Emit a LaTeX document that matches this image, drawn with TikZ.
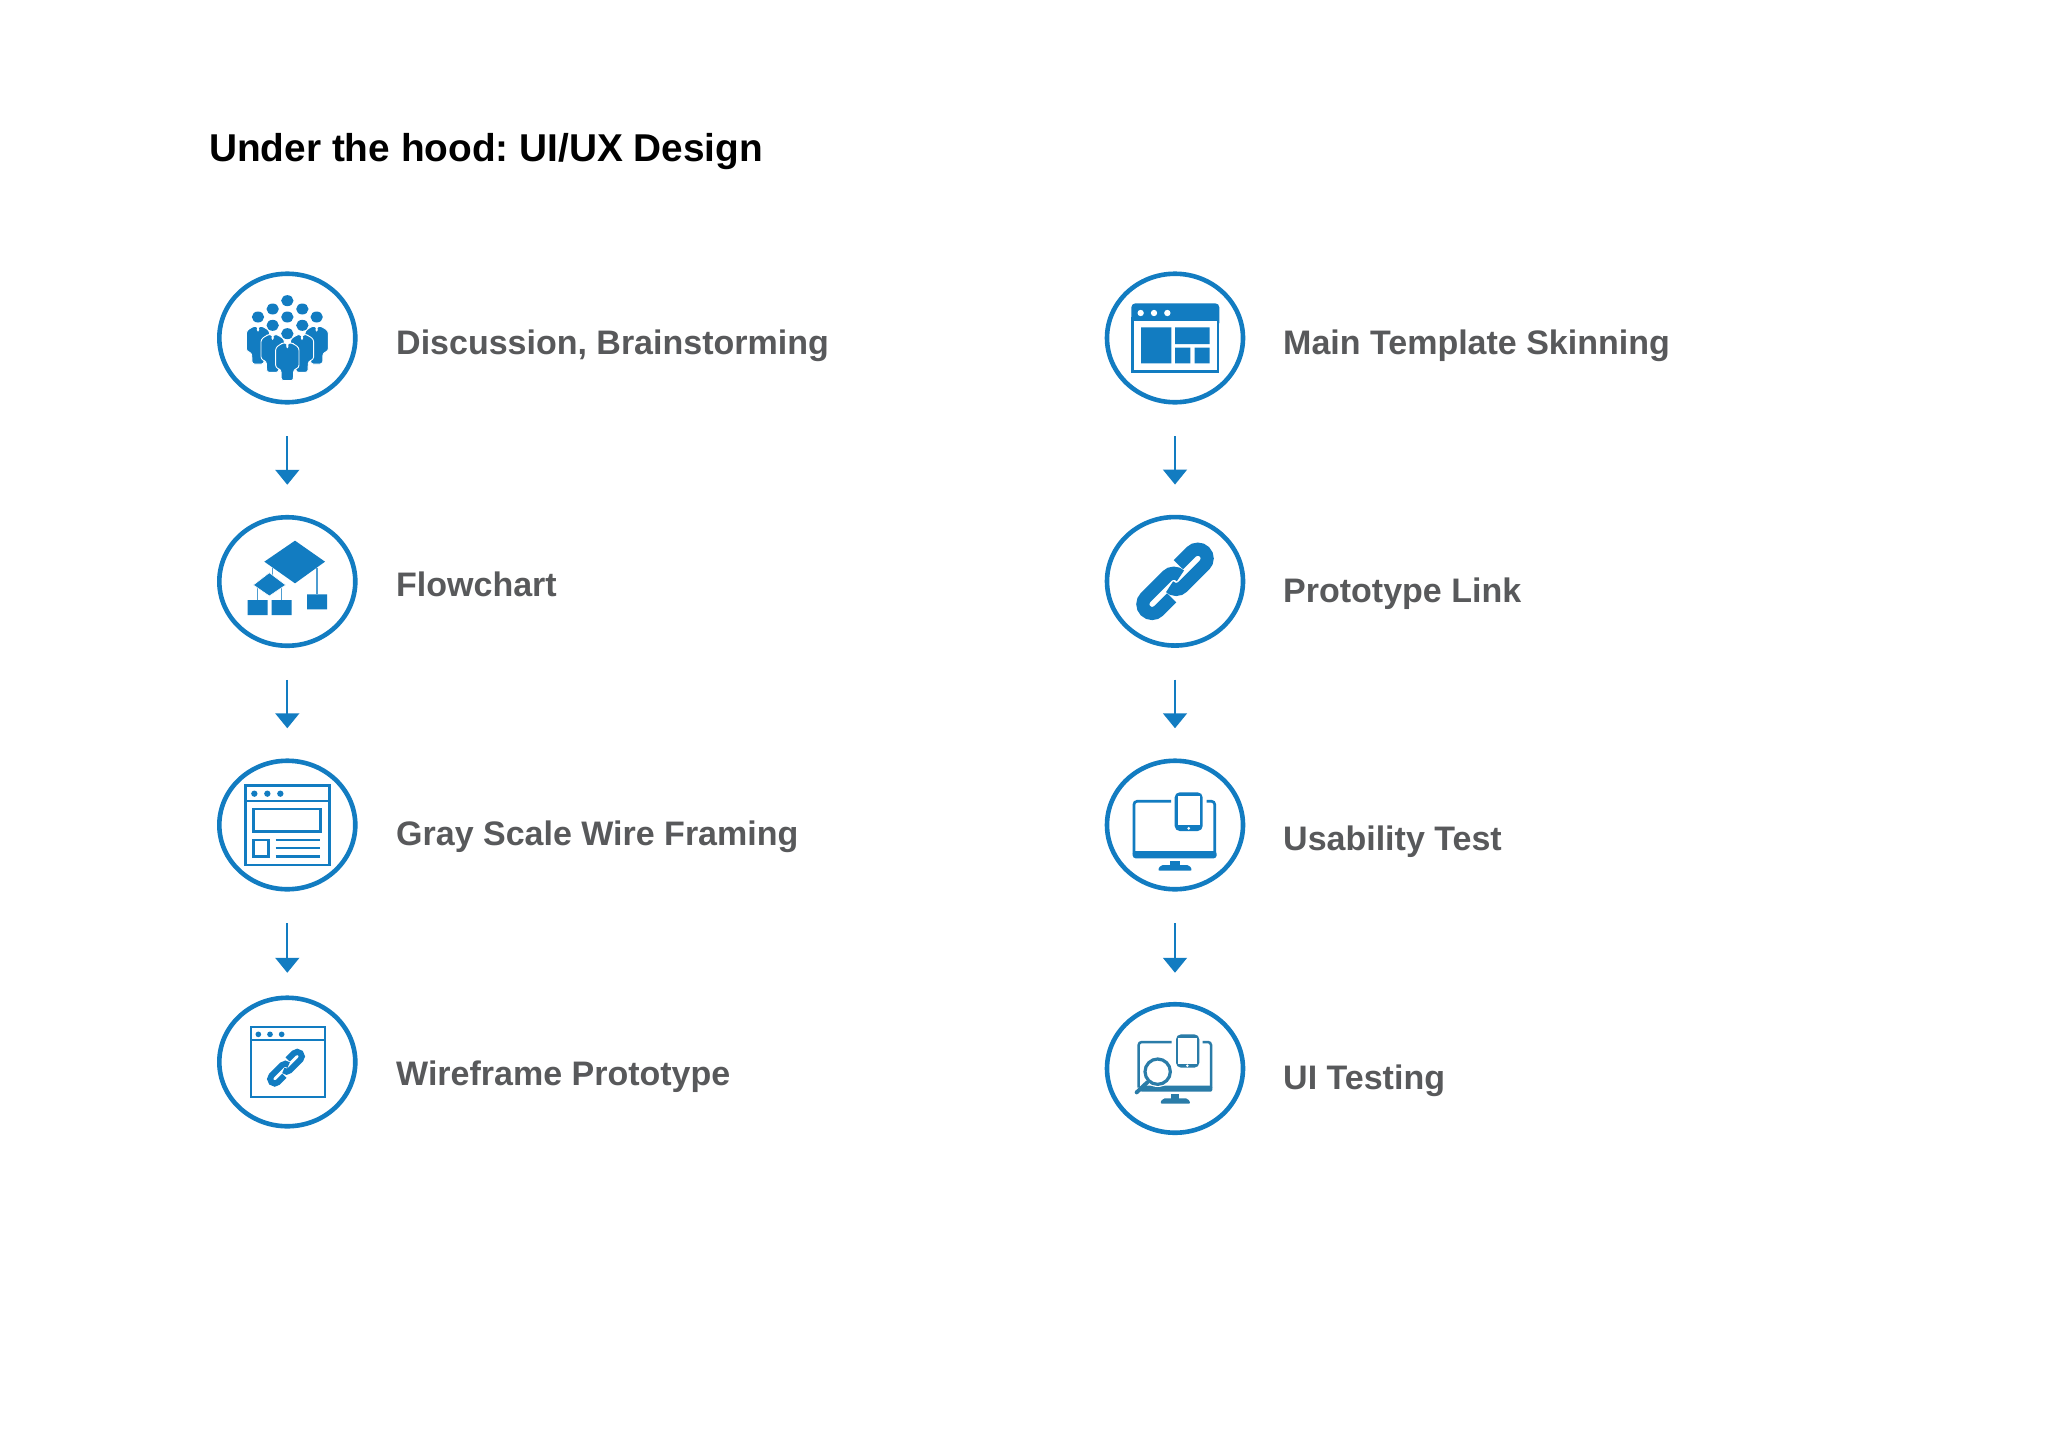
\documentclass[tikz,border=0pt]{standalone}
\usepackage{fontspec}
\setmainfont{Liberation Sans}
\usetikzlibrary{shapes.geometric,arrows.meta}
\definecolor{iconblue}{HTML}{127CC1}
\definecolor{iconteal}{HTML}{2A7CA8}
\definecolor{labelgrey}{HTML}{58595B}
\tikzset{
  ring/.style={ellipse,draw=iconblue,line width=4.6pt,minimum width=136pt,minimum height=128.5pt,inner sep=0pt,outer sep=0pt},
  label/.style={anchor=base west,inner sep=0pt,text=labelgrey,font=\fontsize{34}{40}\selectfont\bfseries},
  heading/.style={anchor=base west,inner sep=0pt,text=black,font=\frenchspacing\fontsize{38.8}{46}\selectfont\bfseries},
  flow/.style={draw=iconblue,line width=1.8pt,-{Triangle[length=15pt,width=24pt]}},
  zs/.style 2 args={shift={(#1,#2)},x=.33333pt,y=-.33333pt},
}
\newcommand\personshape[2]{%
  \fill[iconblue,draw=white,line width=.9pt,rounded corners=2.5pt]
    ({#1-35},{#2+16}) -- ({#1-18},{#2+4}) -- ({#1-5},{#2}) -- ({#1},{#2+8}) -- ({#1+5},{#2}) -- ({#1+18},{#2+4})
    -- ({#1+35},{#2+16}) -- ({#1+35},{#2+76}) -- ({#1+19},{#2+82}) -- ({#1+18},{#2+115}) -- ({#1-18},{#2+115})
    -- ({#1-19},{#2+82}) -- ({#1-35},{#2+76}) -- cycle;
  \fill[white] ({#1-3},{#2+1}) -- ({#1+3},{#2+1}) -- ({#1+2},{#2+7}) -- ({#1+3},{#2+14}) -- ({#1},{#2+18}) -- ({#1-3},{#2+14}) -- ({#1-2},{#2+7}) -- cycle;
}
\newcommand\chainicon[5]{% cx cy scale linewidth colour
  \begin{scope}[shift={(#1,#2)},x=1pt,y=1pt,scale=#3,rotate=45]
    \foreach \ang in {0,180}{
      \begin{scope}[rotate=\ang]
        \draw[white,line width=#4+1pt] (42,28) -- (97,28) arc[start angle=90,end angle=-90,radius=28] -- (5,-28) arc[start angle=-90,end angle=-180,radius=28];
        \draw[#5,line width=#4] (42,28) -- (97,28) arc[start angle=90,end angle=-90,radius=28] -- (5,-28) arc[start angle=-90,end angle=-180,radius=28];
      \end{scope}
    }
  \end{scope}
}
\begin{document}
\begin{tikzpicture}[x=1pt,y=-1pt]
\useasboundingbox (0,0) rectangle (2048,1448);
\fill[white] (0,0) rectangle (2048,1448);

\node[heading] (title) at (209,161) {Under the hood: UI/UX Design};

% rings
\node[ring] (a1) at (287.3,338) {};
\node[ring] (a2) at (287.3,581.5) {};
\node[ring] (a3) at (287.3,825) {};
\node[ring] (a4) at (287.3,1062) {};
\node[ring] (b1) at (1175,338) {};
\node[ring] (b2) at (1175,581.3) {};
\node[ring] (b3) at (1175,825) {};
\node[ring] (b4) at (1175,1068.5) {};

% labels
\node[label] (la1) at (396,354) {Discussion, Brainstorming};
\node[label] (la2) at (396,596) {Flowchart};
\node[label] (la3) at (396,845) {Gray Scale Wire Framing};
\node[label] (la4) at (396,1085) {Wireframe Prototype};
\node[label] (lb1) at (1283,354) {Main Template Skinning};
\node[label] (lb2) at (1283,602) {Prototype Link};
\node[label] (lb3) at (1283,850) {Usability Test};
\node[label] (lb4) at (1283,1089) {UI Testing};

% connectors
\draw[flow] ([yshift=-34pt]a1.south) -- ([yshift=32.5pt]a2.north);
\draw[flow] ([yshift=-34pt]a2.south) -- ([yshift=32.5pt]a3.north);
\draw[flow] ([yshift=-34pt]a3.south) -- ([yshift=25pt]a4.north);
\draw[flow] ([yshift=-34pt]b1.south) -- ([yshift=32.5pt]b2.north);
\draw[flow] ([yshift=-34pt]b2.south) -- ([yshift=32.5pt]b3.north);
\draw[flow] ([yshift=-34pt]b3.south) -- ([yshift=31.5pt]b4.north);

% icon a1: people
\begin{scope}[zs={200}{260}]
  \foreach \hx/\hy in {262/122,218/147,307/147,262/171}{\fill[iconblue] (\hx,\hy) ellipse[x radius=18.5,y radius=16.5];}
  \personshape{174}{197}
  \personshape{350}{197}
  \personshape{218}{222}
  \personshape{306}{222}
  \personshape{262}{247}
  \foreach \hx/\hy in {174/171,350/171,218/196,307/196,262/221}{\fill[iconblue] (\hx,\hy) ellipse[x radius=18.5,y radius=16.5];}
\end{scope}

% icon a2: flowchart
\begin{scope}[zs={200}{500}]
  \draw[iconblue!75,line width=1.5pt] (172,262) -- (172,300) (244,262) -- (244,300) (351,205) -- (351,283) (218,205) -- (218,232);
  \fill[iconblue] (193,185) -- (285,122) -- (375,185) -- (285,250) -- cycle;
  \fill[iconblue,draw=white,line width=.6pt] (160,255) -- (208,218) -- (257,255) -- (208,288) -- cycle;
  \fill[iconblue] (143,300) rectangle (203,345) (215,300) rectangle (275,345) (321,283) rectangle (381,328);
\end{scope}

% icon a3: wireframe
\begin{scope}[zs={200}{750}]
  \draw[iconblue,line width=2.6pt] (137,106) rectangle (388,345) (137,153) -- (388,153);
  \draw[iconblue,line width=2.6pt] (161,177) rectangle (362,245) (161,270) rectangle (205,320);
  \draw[iconblue,line width=2.4pt] (227,270) -- (360,270) (227,294) -- (360,294) (227,319) -- (360,319);
  \foreach \dx in {163,202,241}{\fill[iconblue] (\dx,131) circle[radius=9.5];}
\end{scope}

% icon a4: window with link
\begin{scope}[zs={200}{990}]
  \draw[iconblue,line width=2.2pt] (152,112) rectangle (374,320) (152,150) -- (374,150);
  \foreach \dx in {175,210,245}{\fill[iconblue] (\dx,133) circle[radius=8.5];}
\end{scope}
\chainicon{286}{1067.7}{0.164}{6pt}{iconblue}

% icon b1: template
\begin{scope}[zs={1090}{260}]
  \fill[iconblue,rounded corners=4pt] (124,130) -- (388,130) -- (388,200) -- (124,200) -- cycle;
  \fill[iconblue] (124,170) rectangle (388,338);
  \fill[white] (132,182) rectangle (380,330);
  \foreach \dx in {152,192,232}{\fill[white] (\dx,159) circle[radius=9.5];}
  \fill[iconblue] (153,202) rectangle (244,310) (255,202) rectangle (359,252) (255,263) rectangle (301,310) (314,263) rectangle (359,310);
\end{scope}

% icon b2: link
\chainicon{1175}{581.3}{0.3333}{13pt}{iconblue}

% icon b3: devices
\begin{scope}[zs={1090}{750}]
  \draw[iconblue,line width=2.7pt,rounded corners=3pt] (243,154) -- (132,154) -- (132,312);
  \draw[iconblue,line width=2.7pt,rounded corners=3pt] (350,154) -- (374,154) -- (374,312);
  \fill[iconblue,rounded corners=3pt] (128,303) -- (380,303) -- (380,325) -- (128,325) -- cycle;
  \fill[iconblue] (240,333) rectangle (270,347);
  \fill[iconblue,rounded corners=2pt] (212,345) -- (298,345) -- (307,362) -- (203,362) -- cycle;
  \fill[iconblue,rounded corners=5pt] (254,127) rectangle (338,243);
  \fill[white] (263,137) rectangle (329,226);
  \fill[white] (296,235) circle[radius=4.5];
\end{scope}

% icon b4: devices with magnifier
\begin{scope}[zs={1090}{995}]
  \draw[iconteal,line width=2.5pt,rounded corners=3pt] (245,141) -- (146,141) -- (146,278);
  \draw[iconteal,line width=2.5pt,rounded corners=3pt] (338,141) -- (363,141) -- (363,278);
  \fill[iconteal,rounded corners=2pt] (150,272) -- (367,272) -- (367,290) -- (150,290) -- cycle;
  \fill[iconteal] (243,298) rectangle (268,312);
  \fill[iconteal,rounded corners=2pt] (218,310) -- (294,310) -- (302,326) -- (210,326) -- cycle;
  \fill[iconteal,rounded corners=5pt] (258,118) rectangle (328,218);
  \fill[white] (265,128) rectangle (321,206);
  \fill[white] (292,212) circle[radius=4];
  \fill[white] (203,230) circle[radius=46];
  \draw[iconteal,line width=3.2pt,fill=white] (203,230) circle[radius=38];
  \draw[iconteal,line width=4pt,line cap=round] (172,262) -- (140,292);
\end{scope}
\end{tikzpicture}
\end{document}
